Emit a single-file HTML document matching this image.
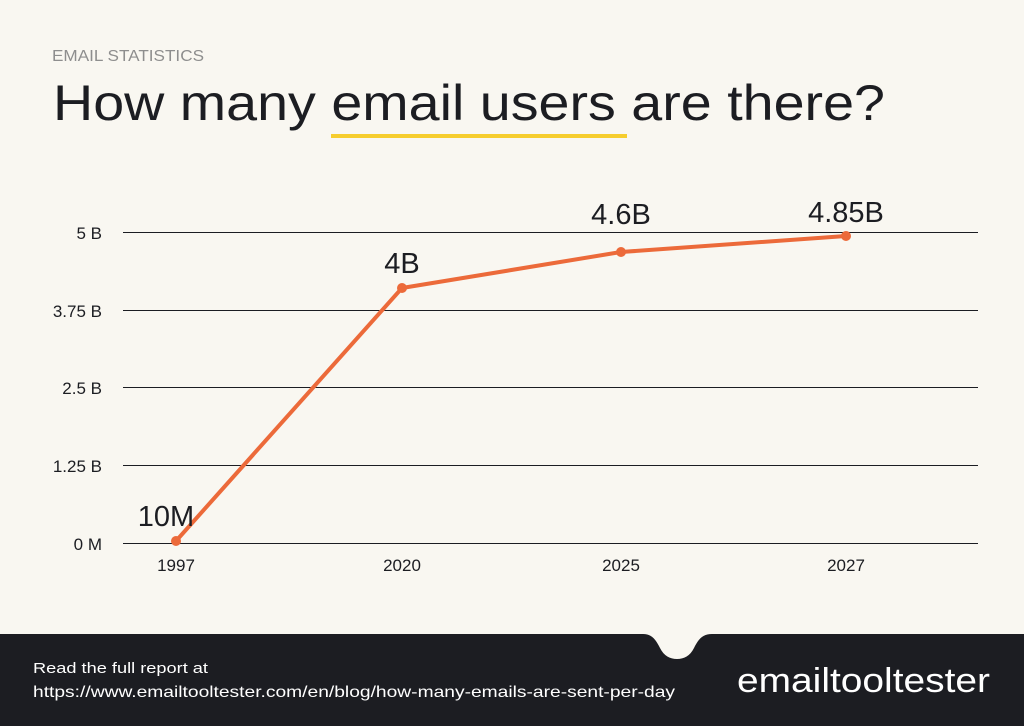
<!DOCTYPE html>
<html><head><meta charset="utf-8"><style>
body{margin:0;width:1024px;height:726px;background:#f9f7f1;font-family:"Liberation Sans",sans-serif;overflow:hidden;position:relative}
</style></head><body>
<svg width="1024" height="726" style="position:absolute;left:0;top:0">
<rect width="1024" height="726" fill="#f9f7f1"/>
<text x="52" y="61" font-size="16" fill="#8e8e8e" textLength="152" lengthAdjust="spacingAndGlyphs">EMAIL STATISTICS</text>
<text x="53" y="120" font-size="50" fill="#1c1d22" textLength="832" lengthAdjust="spacingAndGlyphs">How many email users are there?</text>
<rect x="331" y="134" width="296" height="4" fill="#f6cd2e"/>
<g stroke="#1c1d22" stroke-width="1">
<line x1="123" y1="232.5" x2="978" y2="232.5"/>
<line x1="123" y1="310.5" x2="978" y2="310.5"/>
<line x1="123" y1="387.5" x2="978" y2="387.5"/>
<line x1="123" y1="465.5" x2="978" y2="465.5"/>
<line x1="123" y1="543.5" x2="978" y2="543.5"/>
</g>
<g font-size="17" fill="#1c1d22" text-anchor="end">
<text x="102" y="239">5 B</text>
<text x="102" y="317">3.75 B</text>
<text x="102" y="394">2.5 B</text>
<text x="102" y="472">1.25 B</text>
<text x="102" y="550">0 M</text>
</g>
<g font-size="17" fill="#1c1d22" text-anchor="middle">
<text x="176" y="571">1997</text>
<text x="402" y="571">2020</text>
<text x="621" y="571">2025</text>
<text x="846" y="571">2027</text>
</g>
<polyline points="176,541 402,288 621,252 846,236" fill="none" stroke="#ec6a3a" stroke-width="4" stroke-linejoin="round"/>
<g fill="#ec6a3a"><circle cx="176" cy="541" r="5"/><circle cx="402" cy="288" r="5"/><circle cx="621" cy="252" r="5"/><circle cx="846" cy="236" r="5"/></g>
<g font-size="29" fill="#1c1d22" text-anchor="middle">
<text x="166" y="526">10M</text>
<text x="402" y="273">4B</text>
<text x="621" y="224">4.6B</text>
<text x="846" y="222">4.85B</text>
</g>
<path d="M0,634 L643,634 C652,634 656,640 660,648 C664,656 670,659 677,659 C684,659 690,656 694,648 C698,640 702,634 712,634 L1024,634 L1024,726 L0,726 Z" fill="#1c1d22"/>
<text x="33" y="673" font-size="15" fill="#ffffff" textLength="175" lengthAdjust="spacingAndGlyphs">Read the full report at</text>
<text x="33" y="697" font-size="16" fill="#ffffff" textLength="642" lengthAdjust="spacingAndGlyphs">https://www.emailtooltester.com/en/blog/how-many-emails-are-sent-per-day</text>
<text x="737" y="692" font-size="34" fill="#ffffff" textLength="253" lengthAdjust="spacingAndGlyphs">emailtooltester</text>
</svg>
</body></html>
